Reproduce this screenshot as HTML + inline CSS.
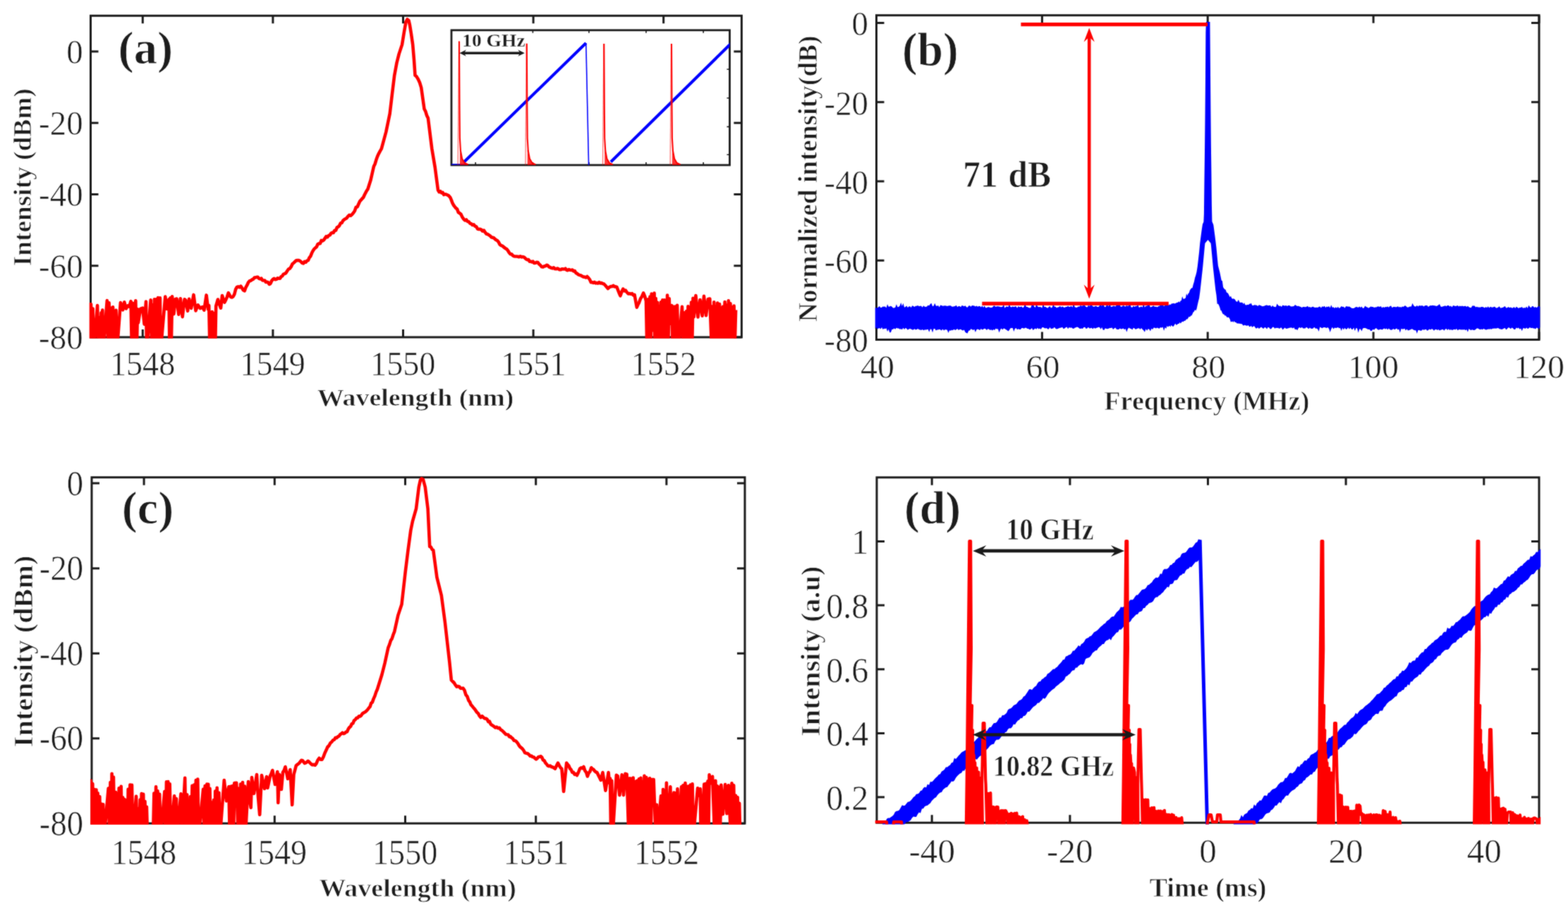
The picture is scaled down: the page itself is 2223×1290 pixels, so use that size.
<!DOCTYPE html>
<html><head><meta charset="utf-8"><title>Figure</title>
<style>html,body{margin:0;padding:0;background:#fff;}svg{display:block;}</style>
</head><body>
<svg width="2223" height="1290" viewBox="0 0 2223 1290">
<rect width="2223" height="1290" fill="#fff"/>
<defs>
<filter id="soft" filterUnits="userSpaceOnUse" x="0" y="0" width="2223" height="1290" color-interpolation-filters="sRGB"><feConvolveMatrix order="3" kernelMatrix="1 2 1 2 12 2 1 2 1" divisor="24" edgeMode="duplicate"/></filter>
<clipPath id="ca"><rect x="126.7" y="20.5" width="926.5" height="459.3"/></clipPath>
<clipPath id="cb"><rect x="1240.5" y="19.7" width="943.5" height="463.8"/></clipPath>
<clipPath id="cc"><rect x="128.2" y="674.9" width="929.6" height="494.1"/></clipPath>
<clipPath id="cd"><rect x="1240.8" y="674.6" width="943.4" height="493.9"/></clipPath>
</defs>
<g filter="url(#soft)"><rect width="2223" height="1290" fill="#fff"/><g font-family="'Liberation Serif', serif" fill="#1c1c1c">
<path d="M202.3 478V467M202.3 22.3V33.3M386.9 478V467M386.9 22.3V33.3M571.5 478V467M571.5 22.3V33.3M756.1 478V467M756.1 22.3V33.3M940.7 478V467M940.7 22.3V33.3M128.5 72.9H139.5M1051.4 72.9H1040.4M128.5 174.2H139.5M1051.4 174.2H1040.4M128.5 275.5H139.5M1051.4 275.5H1040.4M128.5 376.7H139.5M1051.4 376.7H1040.4M128.5 478H139.5M1051.4 478H1040.4" stroke="#1a1a1a" stroke-width="3.0" fill="none"/>
<rect x="128.5" y="22.3" width="922.9" height="455.7" fill="none" stroke="#1a1a1a" stroke-width="3.0"/>
<path d="M1242.5 481.5V470.5M1242.5 21.7V32.7M1477.4 481.5V470.5M1477.4 21.7V32.7M1712.2 481.5V470.5M1712.2 21.7V32.7M1947.1 481.5V470.5M1947.1 21.7V32.7M2182 481.5V470.5M2182 21.7V32.7M1242.5 32.6H1253.5M2182 32.6H2171M1242.5 144.8H1253.5M2182 144.8H2171M1242.5 257H1253.5M2182 257H2171M1242.5 369.3H1253.5M2182 369.3H2171M1242.5 481.5H1253.5M2182 481.5H2171" stroke="#1a1a1a" stroke-width="3.0" fill="none"/>
<rect x="1242.5" y="21.7" width="939.5" height="459.8" fill="none" stroke="#1a1a1a" stroke-width="3.0"/>
<path d="M204.1 1167.2V1156.2M204.1 676.7V687.7M389.3 1167.2V1156.2M389.3 676.7V687.7M574.5 1167.2V1156.2M574.5 676.7V687.7M759.7 1167.2V1156.2M759.7 676.7V687.7M944.9 1167.2V1156.2M944.9 676.7V687.7M130 685.1H141M1056 685.1H1045M130 805.7H141M1056 805.7H1045M130 926.2H141M1056 926.2H1045M130 1046.7H141M1056 1046.7H1045M130 1167.2H141M1056 1167.2H1045" stroke="#1a1a1a" stroke-width="3.0" fill="none"/>
<rect x="130" y="676.7" width="926" height="490.5" fill="none" stroke="#1a1a1a" stroke-width="3.0"/>
<path d="M1321.2 1166.3V1155.3M1321.2 676.8V687.8M1516.9 1166.3V1155.3M1516.9 676.8V687.8M1712.5 1166.3V1155.3M1712.5 676.8V687.8M1908.1 1166.3V1155.3M1908.1 676.8V687.8M2103.8 1166.3V1155.3M2103.8 676.8V687.8M1243 1130H1254M2182 1130H2171M1243 1039.4H1254M2182 1039.4H2171M1243 948.7H1254M2182 948.7H2171M1243 858.1H1254M2182 858.1H2171M1243 767.4H1254M2182 767.4H2171" stroke="#1a1a1a" stroke-width="3.0" fill="none"/>
<rect x="1243" y="676.8" width="939" height="489.5" fill="none" stroke="#1a1a1a" stroke-width="3.0"/>
<g clip-path="url(#ca)"><polyline points="126.5,429.1 127.8,495 129,431.4 130.3,495 131.6,437.5 133,495 138.1,433.1 139.6,495 140.5,450 142.1,495 143.5,443.3 144.4,495 145.3,439.5 146.4,495 151.8,426.1 153.3,495 154.6,429.3 156,495 157.1,436.6 158.7,495 160.1,435.3 161.2,495 162.1,443.4 163.3,495 164.5,439.7 165.9,495 170.9,429 174.2,439.4 176.3,428.3 178.7,437.5 181.2,433.3 183.3,434.7 185.5,427.1 186.9,495 188.2,429.8 189.3,495 190.3,430.8 191.2,495 192.3,426.2 193.9,495 195,438.4 196,457.4 199.2,437.6 202.2,436.7 204.6,459.6 207,427.5 208,495 213.7,425.3 215,495 216.2,432.2 217.4,495 218.9,424.2 219.9,495 221.4,424.2 222.4,495 224,422 225.6,495 226.9,422.3 227.9,495 234.3,420.5 236.7,437.9 239.5,424.4 240.5,495 241.5,422.3 242.7,495 244.1,420.2 246.4,445.1 248.7,423.9 250.5,423.5 253.3,445.8 255.8,423.2 258.7,449.1 261.6,424.2 263.1,425.5 266.1,440.8 268.1,423.9 271.1,436.9 274.5,417.9 277.5,440.4 280.6,432.4 283.9,437.1 286.8,435.2 289.4,439.7 292.6,418.4 295.1,438.5 296.2,433 297.5,495 298.6,445 299.6,495 300.7,442 301.8,495 302.9,444 304,495 305.1,495 306.2,434 308.9,424.5 310.9,430.9 313,436.7 315,419 316.7,424.5 318.4,428.6 320.2,424.9 322,420.8 323.8,415.1 327,421 328.8,421.4 330.5,420.5 332.3,417.2 334.1,410.2 335.9,407 337.7,406.4 339.5,407.3 341.3,405.6 343.1,408.3 344.9,411.3 346.7,412.4 348.5,407.3 350.3,404.2 352.1,400.2 353.9,398.2 355.7,397.7 357.5,396.2 359.1,395.7 360.7,393.5 362.4,393.4 364,392.9 365.6,392.8 367.2,394.9 368.8,395.4 370.5,394.7 372.1,397.4 373.7,397.5 375.3,397.6 376.9,400 378.6,399.7 380.2,400.4 381.8,402.9 383.5,401.9 385.2,398 386.9,396 388.6,394.8 390.3,396.2 392,395.8 393.6,394.2 395.3,394.8 396.9,394.8 398.5,392.2 400.2,391.3 401.8,388.6 403.4,388.1 405.3,387.1 407.1,384.2 409,381.5 410.9,380.6 412.7,378.2 414.5,374.3 416.4,372.6 418.1,371 419.8,369.3 421.5,369.1 423.2,369 424.9,369.6 426.7,371.1 428.4,372.8 430.1,373.4 431.8,370.9 433.5,371.7 435.2,369.7 436.9,369.1 438.6,365.2 440.3,363.2 442,358.8 443.7,355.5 445.4,352.9 447.1,351.4 448.8,350 450.5,346.1 452.2,345.3 453.9,345.1 455.6,340.9 457.4,341.4 459.1,340.1 460.8,337.6 462.5,335.2 464.2,336.2 465.9,333.9 467.6,333.4 469.3,330.7 471,329.7 472.7,329.9 474.4,326.7 476.1,326.6 477.8,322.3 479.5,321.5 481.2,319.8 482.9,316.3 484.6,316 486.3,312.7 488,311.2 489.8,310.1 491.5,309.2 493.2,306.9 495.2,304.8 497.1,305.7 499.1,304 501,301.8 502.9,299 504.7,293.7 506.6,293.2 508.5,289 510.2,285.3 511.9,283.4 513.5,281.5 515.2,279.8 516.9,276 519.2,271.6 521.5,268 525.6,255 529.9,236 531.6,232.5 533.3,226.8 535,222 536.9,217.8 538.9,214.1 540.8,210.9 547.3,187 552.7,161 556,133 559.2,106.8 562.5,89 565.7,76.4 570,63.4 573,45 575.5,31 577.5,27.5 579.5,29 580.9,35.2 583,48 585.2,63.4 587,85 588.5,106.8 590.6,108.6 592.8,112.2 595,117 597.2,124.1 601.5,154.5 603.3,157.9 605.1,163.7 606.9,167.5 612.3,210.9 616.7,237 621,269.5 622.7,272.2 624.3,271.2 626,273.5 627.6,272.8 629.2,276 630.8,275.3 632.4,275.5 634,276.3 636.2,277.4 638.4,280 640,283.9 641.6,288.2 643.2,291 644.8,293.1 646.5,295.2 648.1,296.4 649.8,301 651.4,302 653.4,303.6 655.4,307.7 657.4,310.6 659.2,312.4 661,311.4 662.8,313.9 664.6,314.2 666.4,316.8 668.1,317.2 669.9,319 671.7,318.4 673.5,320.7 675.2,321.2 677,324.5 678.8,324.9 680.6,324.8 682.4,325.6 684.2,327.6 686,326.6 687.8,329.4 689.5,331.5 691.3,332 693.1,333.1 694.9,334.3 696.6,336.2 698.4,336.7 700.2,337.3 702,339.1 703.6,340.3 705.2,341.1 706.9,343.2 708.5,346.4 710.1,347.8 711.8,348.4 713.4,349.5 715,351 716.7,352.2 718.4,353.1 720.1,355.2 721.9,358.2 723.6,360.1 725.3,360.3 727,362.3 728.8,363.3 730.5,363.5 732.3,363.5 734.1,363.7 735.9,364.2 737.7,363.3 739.4,364.4 741.2,364.1 742.8,364.4 744.4,365.8 746,367.5 747.6,368.2 749.2,368 750.9,370.7 752.5,370.7 754.1,371.4 755.7,370.7 757.3,373 759.1,372.8 760.8,371.7 762.6,372.1 764.4,374.6 766.2,376.1 768,378.3 769.8,378.5 771.5,377.4 773.2,377.2 775,375.7 776.7,376.4 778.3,378.3 780,379 781.7,379.9 783.3,380.4 785,379.3 786.7,381 788.3,381.3 790,380.5 791.7,381.2 793.3,382.2 795,382.3 796.7,381.2 798.3,381.4 800,381.5 801.6,380.7 803.3,382.7 804.9,383.2 806.6,382 808.2,382.8 809.9,383 811.5,382.5 813.2,384.4 814.9,384.1 816.5,387 818.2,387.7 819.9,389.2 821.6,390 823.4,390.3 825.2,391.5 827,392.4 828.8,392.6 830.6,393.4 832.4,392 834.2,393.9 836,396.1 837.9,400.2 839.5,400.2 841.1,400.9 842.8,399.9 844.4,401.4 846,401 847.7,401.6 849.3,400.1 851,401.5 852.6,401 854.3,402 856.2,402.5 858.1,404.5 860,406.7 861.9,409 863.9,407.1 866,406.1 868,406 869.6,404.9 871.2,406.4 872.9,406.4 874.5,407 876.2,411.4 877.8,415.5 879.5,419.3 881.4,413.7 883.3,409.6 885.2,412.5 887,411.7 888.9,414.5 890.8,416.5 892.6,416.1 894.3,416.8 896.1,416.2 897.8,418.5 899.6,417.8 902.8,435.7 904.4,432 906,429.1 908.1,423.2 910.1,420.2 912.2,415.3 914.1,419.8 916,426.6 917.3,495 918.5,495 919,424.2 920.6,495 921.5,420.6 922.7,495 923.7,416.5 924.9,468.3 927.6,415.6 928.5,495 929.7,423.1 931.1,495 932.1,428.7 933.4,495 934.7,433.8 935.9,495 937,428.2 938.4,495 939.3,425.2 940.8,495 942,425.3 943,495 944.1,426.7 945.2,495 946.1,418.6 947.2,495 948.7,423.2 949.9,458.7 952.3,433 953.6,495 954.5,434.9 955.9,495 957,434.6 958.5,495 960.1,432.9 961.7,495 967,434.9 968.5,495 970.1,443.2 971.6,495 973.2,441.1 974.4,495 975.5,434.3 976.5,495 977.5,438.8 979.1,495 980.1,428.6 981.1,495 982.5,422.7 983.7,449.4 986.4,419.1 989.5,449.4 992.5,425 995.6,447.8 998,419.9 1001,447.3 1003.8,424 1006.3,423.5 1009,495 1010.1,434.2 1011.1,495 1012.3,428.2 1013.6,495 1014.9,434.3 1015.8,495 1017.2,429.6 1018.7,495 1020.1,431.1 1021.3,495 1022.3,437.3 1023.5,495 1024.8,434.8 1026,495 1027.6,428 1029.1,495 1030.3,432.8 1031.7,495 1032.8,426.4 1034,495 1035.5,430.4 1036.7,495 1038.2,435.9 1039.5,495 1040.6,433.6 1041.6,495 1043.1,439.4" fill="none" stroke="#ff0000" stroke-width="4.6" stroke-linejoin="round"/></g>
<clipPath id="ci"><rect x="640" y="42.8" width="394.5" height="191.2"/></clipPath>
<rect x="640" y="42.8" width="394.5" height="191.2" fill="#fff"/>
<path d="M674.2 234V230M755.4 234V230M755.4 42.8V46.8M835 234V230M835 42.8V46.8M916 234V230M916 42.8V46.8M997.2 234V230M997.2 42.8V46.8M1034.5 98.3H1030.5M1034.5 139H1030.5M1034.5 179.6H1030.5M1034.5 219.2H1030.5" stroke="#1a1a1a" stroke-width="1.6" fill="none"/>
<rect x="640" y="42.8" width="394.5" height="191.2" fill="none" stroke="#1a1a1a" stroke-width="2.8"/>
<g clip-path="url(#ci)">
<polyline points="658,229.5 830.8,61" fill="none" stroke="#0000ff" stroke-width="4.2"/>
<polyline points="830.8,61 834.6,234" fill="none" stroke="#0000ff" stroke-width="1.6"/>
<polyline points="866,229.5 1040,58" fill="none" stroke="#0000ff" stroke-width="4.2"/>
<polyline points="640,233 660,233" fill="none" stroke="#0000ff" stroke-width="1.6"/>
<polyline points="649.2,234 650.6,58.5" fill="none" stroke="#ff0000" stroke-width="1.3" opacity="0.55"/>
<polyline points="651,58.5 651.5,150 651.9,196 653,214 655.1,225 658.6,231 663.6,233.5" fill="none" stroke="#ff0000" stroke-width="2.1" stroke-linejoin="round"/>
<polygon points="651.9,212 653.2,219 655.6,227 658.6,231.5 662.6,234 651.9,234" fill="#ff0000" opacity="0.8"/>
<polyline points="745,234 746.4,61.8" fill="none" stroke="#ff0000" stroke-width="1.3" opacity="0.55"/>
<polyline points="746.8,61.8 747.3,150 747.7,196 748.8,214 750.9,225 754.4,231 759.4,233.5" fill="none" stroke="#ff0000" stroke-width="2.1" stroke-linejoin="round"/>
<polygon points="747.7,212 749,219 751.4,227 754.4,231.5 758.4,234 747.7,234" fill="#ff0000" opacity="0.8"/>
<polyline points="854.5,234 855.9,62" fill="none" stroke="#ff0000" stroke-width="1.3" opacity="0.55"/>
<polyline points="856.3,62 856.8,150 857.2,196 858.3,214 860.4,225 863.9,231 868.9,233.5" fill="none" stroke="#ff0000" stroke-width="2.1" stroke-linejoin="round"/>
<polygon points="857.2,212 858.5,219 860.9,227 863.9,231.5 867.9,234 857.2,234" fill="#ff0000" opacity="0.8"/>
<polyline points="950.2,234 951.6,62" fill="none" stroke="#ff0000" stroke-width="1.3" opacity="0.55"/>
<polyline points="952,62 952.5,150 952.9,196 954,214 956.1,225 959.6,231 964.6,233.5" fill="none" stroke="#ff0000" stroke-width="2.1" stroke-linejoin="round"/>
<polygon points="952.9,212 954.2,219 956.6,227 959.6,231.5 963.6,234 952.9,234" fill="#ff0000" opacity="0.8"/>
</g>
<line x1="656.2" y1="75.2" x2="739" y2="75.2" stroke="#1a1a1a" stroke-width="3.4"/>
<polygon points="651.5,75.2 661,70.6 657.7,75.2 661,79.8" fill="#1a1a1a"/>
<polygon points="743.8,75.2 734.3,79.8 737.6,75.2 734.3,70.6" fill="#1a1a1a"/>
<text transform="translate(655.18 65.80) scale(1.0402 0.9556)" text-anchor="start" font-size="26.5" font-weight="bold" stroke="#fff" stroke-width="0.30">10 GHz</text>
<text transform="translate(202.06 531.70) scale(0.9828 1.0226)" text-anchor="middle" font-size="47" stroke="#fff" stroke-width="0.6">1548</text>
<text transform="translate(386.64 531.70) scale(0.9828 1.0226)" text-anchor="middle" font-size="47" stroke="#fff" stroke-width="0.6">1549</text>
<text transform="translate(571.22 531.70) scale(0.9828 1.0226)" text-anchor="middle" font-size="47" stroke="#fff" stroke-width="0.6">1550</text>
<text transform="translate(756.29 531.70) scale(0.9828 1.0226)" text-anchor="middle" font-size="47" stroke="#fff" stroke-width="0.6">1551</text>
<text transform="translate(940.87 531.70) scale(0.9828 1.0226)" text-anchor="middle" font-size="47" stroke="#fff" stroke-width="0.6">1552</text>
<text transform="translate(117.60 89.83) scale(0.9983 1.0226)" text-anchor="end" font-size="47" stroke="#fff" stroke-width="0.6">0</text>
<text transform="translate(117.60 191.10) scale(0.9983 1.0226)" text-anchor="end" font-size="47" stroke="#fff" stroke-width="0.6">-20</text>
<text transform="translate(117.60 292.37) scale(0.9983 1.0226)" text-anchor="end" font-size="47" stroke="#fff" stroke-width="0.6">-40</text>
<text transform="translate(117.60 393.63) scale(0.9983 1.0226)" text-anchor="end" font-size="47" stroke="#fff" stroke-width="0.6">-60</text>
<text transform="translate(117.60 494.90) scale(0.9983 1.0226)" text-anchor="end" font-size="47" stroke="#fff" stroke-width="0.6">-80</text>
<text transform="translate(449.73 575.33) scale(1.0236 0.9242)" text-anchor="start" font-size="37" font-weight="bold" stroke="#fff" stroke-width="0.80">Wavelength (nm)</text>
<text transform="translate(44.36 377.24) rotate(-90) scale(1.0086 0.9485)" text-anchor="start" font-size="37" font-weight="bold" stroke="#fff" stroke-width="0.80">Intensity (dBm)</text>
<text transform="translate(167.48 89.66) scale(1.0397 1.0364)" text-anchor="start" font-size="64" font-weight="bold" stroke="#fff" stroke-width="0.80">(a)</text>
<g clip-path="url(#cb)"><polygon points="1240.5,435.9 1242.1,436.2 1243.7,436.8 1245.3,435.3 1246.9,433.9 1248.5,436.2 1250.1,435.7 1251.7,434.5 1253.3,434.7 1254.9,434.4 1256.5,436.4 1258.1,431.3 1259.7,434.7 1261.3,434.6 1262.9,433.7 1264.5,434.7 1266.1,436.4 1267.7,436.4 1269.3,435.8 1270.9,431.2 1272.5,435.3 1274.1,435 1275.7,433.6 1277.3,428.9 1278.9,434 1280.5,429.8 1282.1,435.7 1283.7,435.1 1285.3,433.6 1286.9,436.1 1288.5,434.6 1290.1,434.3 1291.7,435.9 1293.3,433.3 1294.9,434 1296.5,434.9 1298.1,433.7 1299.7,433.8 1301.3,432.9 1302.9,434.2 1304.5,433.8 1306.1,433.8 1307.7,435.7 1309.3,433.2 1310.9,434.8 1312.5,435 1314.1,434.5 1315.7,432.7 1317.3,433.3 1318.9,430.9 1320.5,429.8 1322.1,434.3 1323.7,433.4 1325.3,429.8 1326.9,433.5 1328.5,433.8 1330.1,432.9 1331.7,435.4 1333.3,432.5 1334.9,432.9 1336.5,433.8 1338.1,433.6 1339.7,433.3 1341.3,433.5 1342.9,433.9 1344.5,433.4 1346.1,433.3 1347.7,433.3 1349.3,434.4 1350.9,434.8 1352.5,434.2 1354.1,434 1355.7,432.7 1357.3,435.3 1358.9,433.9 1360.5,434.1 1362.1,435.2 1363.7,432.9 1365.3,433.6 1366.9,434.2 1368.5,433.2 1370.1,435.3 1371.7,435.8 1373.3,433.5 1374.9,433.3 1376.5,434.8 1378.1,433.1 1379.7,433.2 1381.3,433.4 1382.9,434.5 1384.5,433.5 1386.1,434.8 1387.7,433.9 1389.3,433.9 1390.9,435.4 1392.5,433.5 1394.1,435.9 1395.7,433.4 1397.3,436.2 1398.9,436.3 1400.5,435.3 1402.1,435.3 1403.7,436 1405.3,436.1 1406.9,435.8 1408.5,433.7 1410.1,433.6 1411.7,434.9 1413.3,434.2 1414.9,434.2 1416.5,434.6 1418.1,434.9 1419.7,435.2 1421.3,434.7 1422.9,431.8 1424.5,436.8 1426.1,434.7 1427.7,434.6 1429.3,435.2 1430.9,431.5 1432.5,435 1434.1,435.5 1435.7,434.2 1437.3,435.3 1438.9,434.6 1440.5,434.3 1442.1,436.8 1443.7,434.1 1445.3,435.2 1446.9,435 1448.5,434.4 1450.1,436.6 1451.7,434.8 1453.3,430.7 1454.9,435 1456.5,435 1458.1,436.1 1459.7,436.5 1461.3,436.2 1462.9,432 1464.5,430.6 1466.1,434.4 1467.7,435.9 1469.3,431.3 1470.9,434.3 1472.5,435.3 1474.1,434.9 1475.7,435.3 1477.3,436.8 1478.9,430.2 1480.5,435.3 1482.1,434.7 1483.7,436.1 1485.3,436.8 1486.9,435 1488.5,433.9 1490.1,436.4 1491.7,435.7 1493.3,431.3 1494.9,434.8 1496.5,434.8 1498.1,436.5 1499.7,435.6 1501.3,435.3 1502.9,433.7 1504.5,435.7 1506.1,434.2 1507.7,435.4 1509.3,435.9 1510.9,434.9 1512.5,434.9 1514.1,433.8 1515.7,435 1517.3,434.8 1518.9,433.8 1520.5,435.8 1522.1,430 1523.7,435.2 1525.3,435.7 1526.9,435.9 1528.5,434.6 1530.1,434.7 1531.7,433.1 1533.3,433.8 1534.9,433.5 1536.5,433.1 1538.1,433.2 1539.7,435 1541.3,435.5 1542.9,433 1544.5,433.8 1546.1,432.9 1547.7,433 1549.3,434.1 1550.9,434.9 1552.5,434 1554.1,433.7 1555.7,434.9 1557.3,435.1 1558.9,433.2 1560.5,432.8 1562.1,433.7 1563.7,430.6 1565.3,433.9 1566.9,435.4 1568.5,433.3 1570.1,432.7 1571.7,434.3 1573.3,428.3 1574.9,435 1576.5,434.8 1578.1,433.8 1579.7,433.8 1581.3,434.5 1582.9,432.8 1584.5,428.7 1586.1,433 1587.7,432.7 1589.3,434.9 1590.9,434.2 1592.5,433 1594.1,434.1 1595.7,434.4 1597.3,433.1 1598.9,434 1600.5,432.9 1602.1,430.9 1603.7,435.6 1605.3,435.7 1606.9,433.4 1608.5,435.1 1610.1,433.8 1611.7,434 1613.3,432.1 1614.9,435.9 1616.5,435.3 1618.1,434.3 1619.7,435.8 1621.3,429.4 1622.9,435.7 1624.5,433.6 1626.1,433.9 1627.7,430.2 1629.3,431.6 1630.9,435.6 1632.5,435 1634.1,433.9 1635.7,433.4 1637.3,434.9 1638.9,434.4 1640.5,435.5 1642.1,434.3 1643.7,433.8 1645.3,432.7 1646.9,433.1 1648.5,432.5 1650.1,433.9 1651.7,433 1653.3,433 1654.5,432.9 1655.7,432.1 1656.9,433 1658.1,431.3 1659.3,432.3 1660.5,430.7 1661.7,430.2 1662.9,430.3 1664.1,429.7 1665.3,430.6 1666.5,429.9 1667.7,429.3 1668.9,429 1670.1,428.4 1671.3,427.2 1672.5,428.8 1673.7,426.2 1674.9,426.1 1676.1,420 1677.3,423.2 1678.5,424 1679.7,423.1 1680.9,422.5 1682.1,416 1683.3,419.2 1684.5,416.3 1685.7,415.2 1686.9,411.5 1688.1,409.7 1689.3,408.2 1690.5,408.2 1691.7,403.2 1692.9,399.4 1694.1,393.7 1695.3,390.2 1696.5,385.6 1697.7,377.9 1698.9,367.7 1700.1,357.2 1701.3,344.2 1702.5,335.1 1703.7,326 1704.9,318 1705.4,316.8 1705.9,315.7 1706.4,314.5 1706.9,303.5 1707.4,260 1707.9,222.5 1708.4,177.1 1708.9,120 1709.4,45.8 1709.9,31 1710.4,31 1710.9,31 1711.4,31 1711.9,31 1712.4,31 1712.9,31 1713.4,31 1713.9,31 1714.4,31 1714.9,31 1715.4,31 1715.9,90.3 1716.4,154.3 1716.9,207.5 1717.4,245 1717.9,290 1718.4,314 1718.9,315.2 1719.4,316.4 1719.9,317.6 1720.4,319.2 1720.9,323 1722.1,332 1723.3,341.2 1724.5,351.6 1725.7,364.3 1726.9,376.4 1728.1,381.3 1729.3,385.8 1730.5,391.8 1731.7,397.6 1732.9,398.2 1734.1,407.1 1735.3,409.1 1736.5,410.2 1737.7,410.7 1738.9,414.4 1740.1,415.1 1741.3,416.3 1742.5,418.8 1743.7,421.3 1744.9,419.6 1746.1,422.5 1747.3,423.8 1748.5,423.2 1749.7,423.7 1750.9,424.4 1752.1,426.8 1753.3,427.8 1754.5,427.5 1755.7,424.7 1756.9,427.2 1758.1,429.2 1759.3,428.4 1760.5,429 1761.7,429 1762.9,431.3 1764.1,429.1 1765.3,432 1766.5,432.5 1767.7,432.2 1768.9,431.8 1770.1,432.3 1771.3,430.5 1772.5,430.9 1773.7,429.4 1775.3,433.1 1776.9,433 1778.5,432.2 1780.1,432.5 1781.7,432.7 1783.3,433.9 1784.9,432.3 1786.5,432.7 1788.1,433.5 1789.7,434.2 1791.3,433.9 1792.9,433.5 1794.5,432.7 1796.1,432.6 1797.7,433.2 1799.3,433.1 1800.9,432.7 1802.5,435.3 1804.1,433 1805.7,434.7 1807.3,435.1 1808.9,435.3 1810.5,430.6 1812.1,432.8 1813.7,434 1815.3,433.5 1816.9,435.1 1818.5,432.6 1820.1,433.3 1821.7,433.5 1823.3,433 1824.9,434.1 1826.5,432.9 1828.1,433 1829.7,434.3 1831.3,434.6 1832.9,434.2 1834.5,434.1 1836.1,432.1 1837.7,433.3 1839.3,433.9 1840.9,433.8 1842.5,434.4 1844.1,435.1 1845.7,435.9 1847.3,435 1848.9,434.9 1850.5,435.2 1852.1,435 1853.7,433.8 1855.3,435.5 1856.9,434.9 1858.5,436.1 1860.1,434.9 1861.7,434.8 1863.3,435.8 1864.9,436.1 1866.5,435.8 1868.1,436.1 1869.7,435 1871.3,434.5 1872.9,436.4 1874.5,434.3 1876.1,435.1 1877.7,433.7 1879.3,436 1880.9,434.6 1882.5,435.3 1884.1,434.1 1885.7,436.4 1887.3,432.3 1888.9,436.1 1890.5,435.3 1892.1,436.9 1893.7,435.2 1895.3,436.8 1896.9,434.7 1898.5,437 1900.1,436 1901.7,434.1 1903.3,435 1904.9,434.7 1906.5,436.7 1908.1,434.2 1909.7,434.2 1911.3,434.7 1912.9,434.6 1914.5,435.6 1916.1,436.7 1917.7,437 1919.3,436.9 1920.9,436.1 1922.5,435.1 1924.1,435.2 1925.7,435.9 1927.3,434.4 1928.9,435.9 1930.5,434.6 1932.1,436.9 1933.7,436.4 1935.3,433.4 1936.9,435.1 1938.5,435.5 1940.1,436.8 1941.7,435.8 1943.3,434.5 1944.9,434.9 1946.5,434.9 1948.1,436 1949.7,435.6 1951.3,435.6 1952.9,434.6 1954.5,434.5 1956.1,435.1 1957.7,433.9 1959.3,436.6 1960.9,435.1 1962.5,435.9 1964.1,435.1 1965.7,435.2 1967.3,434.5 1968.9,435.7 1970.5,434.1 1972.1,433.4 1973.7,436.3 1975.3,435.1 1976.9,435.1 1978.5,435.2 1980.1,435.3 1981.7,434.3 1983.3,435.6 1984.9,435.1 1986.5,435.7 1988.1,434.6 1989.7,434.9 1991.3,433.4 1992.9,433.4 1994.5,435.2 1996.1,435.8 1997.7,434.9 1999.3,434.6 2000.9,434.6 2002.5,429.8 2004.1,433 2005.7,434.5 2007.3,434.6 2008.9,433 2010.5,434.5 2012.1,433 2013.7,433.4 2015.3,433.2 2016.9,433.2 2018.5,434.6 2020.1,433.2 2021.7,433 2023.3,432.9 2024.9,435 2026.5,433.8 2028.1,433 2029.7,433.3 2031.3,432.7 2032.9,433.3 2034.5,433.2 2036.1,433.9 2037.7,433.6 2039.3,432.6 2040.9,430.9 2042.5,434.6 2044.1,434.9 2045.7,434.2 2047.3,434 2048.9,433.2 2050.5,434.3 2052.1,433 2053.7,433.1 2055.3,434.6 2056.9,433.4 2058.5,435.4 2060.1,432.9 2061.7,433.4 2063.3,434 2064.9,433.8 2066.5,433 2068.1,434.6 2069.7,433.4 2071.3,434.2 2072.9,433.6 2074.5,434.3 2076.1,434.1 2077.7,433.7 2079.3,435.1 2080.9,433.8 2082.5,435.3 2084.1,436.1 2085.7,436.2 2087.3,433.6 2088.9,433.5 2090.5,433.5 2092.1,435.4 2093.7,434.8 2095.3,435.5 2096.9,435.4 2098.5,435.7 2100.1,434.9 2101.7,434.9 2103.3,435.5 2104.9,436.4 2106.5,435 2108.1,436.3 2109.7,434.2 2111.3,436.4 2112.9,434.7 2114.5,435.4 2116.1,435.8 2117.7,434.9 2119.3,434.7 2120.9,436.5 2122.5,436.5 2124.1,435.4 2125.7,434.3 2127.3,436.7 2128.9,436.2 2130.5,436.1 2132.1,435 2133.7,434.1 2135.3,436.6 2136.9,436.2 2138.5,435.1 2140.1,436.3 2141.7,435.6 2143.3,436.6 2144.9,436.5 2146.5,435 2148.1,436.9 2149.7,434.7 2151.3,435.8 2152.9,437 2154.5,435.9 2156.1,435.9 2157.7,435.1 2159.3,437.1 2160.9,436 2162.5,436.7 2164.1,434.6 2165.7,436.9 2167.3,432.7 2168.9,435.1 2170.5,436.3 2172.1,434 2173.7,434.2 2175.3,436 2176.9,435.1 2178.5,436.3 2180.1,434.7 2181.7,434 2183.3,434.7 2183.3,463.9 2181.7,466.4 2180.1,465.2 2178.5,464.6 2176.9,466.4 2175.3,465.5 2173.7,465.6 2172.1,464.8 2170.5,465.3 2168.9,464.1 2167.3,465.6 2165.7,466.1 2164.1,464.5 2162.5,465.9 2160.9,465.2 2159.3,465.2 2157.7,469.3 2156.1,465.4 2154.5,466.8 2152.9,464.5 2151.3,465.4 2149.7,464.4 2148.1,466.9 2146.5,466.9 2144.9,465.2 2143.3,464.4 2141.7,466.3 2140.1,464.7 2138.5,464.2 2136.9,466.1 2135.3,467.5 2133.7,465.1 2132.1,465.4 2130.5,466.4 2128.9,466.9 2127.3,466.4 2125.7,466.2 2124.1,465.1 2122.5,465.2 2120.9,465.7 2119.3,465.5 2117.7,465.7 2116.1,465.7 2114.5,466.7 2112.9,466.3 2111.3,466.7 2109.7,466.5 2108.1,467.2 2106.5,467.4 2104.9,466.7 2103.3,465.9 2101.7,467.3 2100.1,466.4 2098.5,467.2 2096.9,466.4 2095.3,465.5 2093.7,465.5 2092.1,467 2090.5,468.1 2088.9,468 2087.3,467.3 2085.7,467.9 2084.1,467.4 2082.5,465.9 2080.9,470.7 2079.3,466.9 2077.7,468.2 2076.1,467.1 2074.5,467.4 2072.9,467.2 2071.3,467.5 2069.7,467 2068.1,467.3 2066.5,468.2 2064.9,466.1 2063.3,467.5 2061.7,466.8 2060.1,467.4 2058.5,468.1 2056.9,466.9 2055.3,467.9 2053.7,466.2 2052.1,468 2050.5,466.1 2048.9,466.8 2047.3,468.8 2045.7,466.8 2044.1,467.3 2042.5,467.7 2040.9,468.5 2039.3,467.1 2037.7,468 2036.1,466.7 2034.5,467.3 2032.9,468.7 2031.3,466.7 2029.7,466.2 2028.1,467.5 2026.5,466.6 2024.9,468 2023.3,468.8 2021.7,466.7 2020.1,467.2 2018.5,467.7 2016.9,467 2015.3,468.8 2013.7,468.7 2012.1,468 2010.5,467.9 2008.9,473 2007.3,468.3 2005.7,468.2 2004.1,467.8 2002.5,466.5 2000.9,466.4 1999.3,467.6 1997.7,467.9 1996.1,468.4 1994.5,466.4 1992.9,468.5 1991.3,465.8 1989.7,466.6 1988.1,466.6 1986.5,466.1 1984.9,471.8 1983.3,466.5 1981.7,467.4 1980.1,465.5 1978.5,466.6 1976.9,467.2 1975.3,466 1973.7,467.5 1972.1,467.7 1970.5,467.3 1968.9,465.6 1967.3,467.6 1965.7,465.5 1964.1,466.8 1962.5,465.5 1960.9,466.5 1959.3,467.6 1957.7,466.7 1956.1,466.9 1954.5,467.8 1952.9,467.1 1951.3,465.3 1949.7,465.7 1948.1,467.7 1946.5,466.8 1944.9,468.8 1943.3,469.2 1941.7,467 1940.1,467 1938.5,466.6 1936.9,465.4 1935.3,465.1 1933.7,465 1932.1,465.6 1930.5,469.6 1928.9,466.5 1927.3,466.5 1925.7,471.7 1924.1,465.5 1922.5,464.9 1920.9,469.3 1919.3,464.4 1917.7,466.9 1916.1,466.7 1914.5,464.4 1912.9,466.7 1911.3,464.2 1909.7,466.5 1908.1,466.7 1906.5,464.8 1904.9,467.6 1903.3,464.8 1901.7,469.1 1900.1,464.9 1898.5,465.3 1896.9,464.1 1895.3,464.7 1893.7,465.1 1892.1,464.6 1890.5,466.4 1888.9,463.7 1887.3,466.6 1885.7,471.1 1884.1,465.9 1882.5,464 1880.9,465 1879.3,464.6 1877.7,464 1876.1,464.3 1874.5,465.2 1872.9,464.4 1871.3,463.6 1869.7,470.1 1868.1,466.4 1866.5,465.5 1864.9,465.8 1863.3,463.7 1861.7,465.6 1860.1,466.1 1858.5,465.8 1856.9,464.5 1855.3,466.3 1853.7,465.1 1852.1,463.7 1850.5,465.6 1848.9,465.5 1847.3,465.6 1845.7,463.7 1844.1,465.2 1842.5,464 1840.9,464.9 1839.3,468.2 1837.7,466.4 1836.1,467.3 1834.5,464.2 1832.9,465.6 1831.3,464.6 1829.7,464.6 1828.1,464.8 1826.5,465.2 1824.9,465.7 1823.3,465.9 1821.7,464.4 1820.1,465.8 1818.5,467.4 1816.9,464.6 1815.3,464.7 1813.7,465.9 1812.1,464.8 1810.5,465 1808.9,464.8 1807.3,465.8 1805.7,463.7 1804.1,463.8 1802.5,466 1800.9,466.6 1799.3,464.5 1797.7,463.7 1796.1,466.5 1794.5,464.4 1792.9,464 1791.3,465.9 1789.7,465 1788.1,463.6 1786.5,464.7 1784.9,465.9 1783.3,464.2 1781.7,465.6 1780.1,465.2 1778.5,462.4 1776.9,462.4 1775.3,464.1 1773.7,461.8 1772.5,463 1771.3,463.2 1770.1,461.3 1768.9,461.5 1767.7,461.7 1766.5,461.5 1765.3,461 1764.1,460.7 1762.9,461.7 1761.7,460.6 1760.5,459.1 1759.3,459.3 1758.1,458.8 1756.9,458.8 1755.7,458.5 1754.5,458.5 1753.3,458.2 1752.1,456.7 1750.9,457.1 1749.7,455.1 1748.5,456.9 1747.3,455.6 1746.1,455.9 1744.9,456.5 1743.7,452.6 1742.5,450.6 1741.3,449.6 1740.1,450.3 1738.9,449.1 1737.7,447.2 1736.5,447.6 1735.3,445.6 1734.1,445.6 1732.9,443.7 1731.7,440.4 1730.5,439.9 1729.3,435.7 1728.1,432.8 1726.9,430.5 1725.7,431.2 1724.5,418.6 1723.3,410.8 1722.1,399.9 1720.9,389 1720.4,384.4 1719.9,379.9 1719.4,374.6 1718.9,369.1 1718.4,363.6 1717.9,358.2 1717.4,352.7 1716.9,347.2 1716.4,344.6 1715.9,344 1715.4,343.5 1714.9,342.9 1714.4,342.3 1713.9,341.7 1713.4,341.1 1712.9,340.5 1712.4,340.1 1711.9,340.7 1711.4,341.3 1710.9,341.9 1710.4,342.5 1709.9,343.1 1709.4,343.7 1708.9,344.3 1708.4,344.9 1707.9,349.4 1707.4,354.9 1706.9,360.4 1706.4,365.8 1705.9,371.3 1705.4,376.8 1704.9,381.7 1703.7,392.6 1702.5,403.5 1701.3,414.1 1700.1,422.8 1698.9,427.2 1697.7,432.6 1696.5,438 1695.3,440.6 1694.1,439.1 1692.9,441.7 1691.7,442.5 1690.5,445.2 1689.3,447.6 1688.1,447.5 1686.9,449.5 1685.7,448.7 1684.5,450.8 1683.3,452.8 1682.1,452.3 1680.9,454.3 1679.7,454.7 1678.5,455 1677.3,456.5 1676.1,455.4 1674.9,457.2 1673.7,458.5 1672.5,456.9 1671.3,459 1670.1,459.1 1668.9,460 1667.7,461 1666.5,458.8 1665.3,460.1 1664.1,462.3 1662.9,462.9 1661.7,461.9 1660.5,460.9 1659.3,463.5 1658.1,461.8 1656.9,462.4 1655.7,463.7 1654.5,461.7 1653.3,466.1 1651.7,464.1 1650.1,468.9 1648.5,463.5 1646.9,464.7 1645.3,464.1 1643.7,465.8 1642.1,465.2 1640.5,464.6 1638.9,465.4 1637.3,464.8 1635.7,464.5 1634.1,467.1 1632.5,465.7 1630.9,469.5 1629.3,466.8 1627.7,466.3 1626.1,468.7 1624.5,466.2 1622.9,470.7 1621.3,468.2 1619.7,467.1 1618.1,465.1 1616.5,466.9 1614.9,465.2 1613.3,465.4 1611.7,466.1 1610.1,466.9 1608.5,465.6 1606.9,464.7 1605.3,467.4 1603.7,466.1 1602.1,465.8 1600.5,464.6 1598.9,466.2 1597.3,470.8 1595.7,466 1594.1,467.2 1592.5,465.4 1590.9,466.3 1589.3,466.5 1587.7,465.5 1586.1,466.9 1584.5,467 1582.9,466.8 1581.3,464.5 1579.7,465.4 1578.1,467 1576.5,464.4 1574.9,465.1 1573.3,465.1 1571.7,465.8 1570.1,466.2 1568.5,465.9 1566.9,465.2 1565.3,468 1563.7,467.6 1562.1,464 1560.5,466.7 1558.9,463.9 1557.3,463.8 1555.7,464.5 1554.1,465.1 1552.5,465.8 1550.9,464.5 1549.3,466.4 1547.7,464.7 1546.1,465.2 1544.5,465.6 1542.9,463.7 1541.3,465.4 1539.7,465.9 1538.1,463.8 1536.5,464 1534.9,466 1533.3,465.4 1531.7,466 1530.1,465.6 1528.5,464.1 1526.9,463.6 1525.3,464.3 1523.7,464.8 1522.1,466 1520.5,465.4 1518.9,464.3 1517.3,464.7 1515.7,463.9 1514.1,466.2 1512.5,463.6 1510.9,464.3 1509.3,465.4 1507.7,466.3 1506.1,463.8 1504.5,464.5 1502.9,464.7 1501.3,465.2 1499.7,466.1 1498.1,466.5 1496.5,465.8 1494.9,463.8 1493.3,465.5 1491.7,465.7 1490.1,466.2 1488.5,464.1 1486.9,466.4 1485.3,466.4 1483.7,465 1482.1,465.6 1480.5,465.1 1478.9,464.1 1477.3,464.3 1475.7,466.9 1474.1,465.5 1472.5,466.5 1470.9,464.7 1469.3,466.7 1467.7,465.5 1466.1,466.8 1464.5,468.1 1462.9,465.1 1461.3,466.8 1459.7,467.2 1458.1,466.1 1456.5,466.1 1454.9,464.8 1453.3,464.7 1451.7,465.8 1450.1,465 1448.5,464.9 1446.9,467.1 1445.3,466.9 1443.7,466.2 1442.1,467.3 1440.5,465.1 1438.9,466.1 1437.3,470 1435.7,465.1 1434.1,465.1 1432.5,465.2 1430.9,468 1429.3,469.4 1427.7,467.9 1426.1,467.3 1424.5,466.1 1422.9,465.4 1421.3,467.4 1419.7,465.6 1418.1,467.4 1416.5,471.5 1414.9,466.2 1413.3,466.5 1411.7,465.7 1410.1,468.1 1408.5,466.9 1406.9,468.4 1405.3,467.3 1403.7,468 1402.1,466.7 1400.5,466.3 1398.9,468.1 1397.3,466.3 1395.7,465.8 1394.1,466.7 1392.5,467.5 1390.9,466 1389.3,468 1387.7,467.3 1386.1,466.6 1384.5,467.3 1382.9,471 1381.3,466.8 1379.7,468.1 1378.1,467 1376.5,466.3 1374.9,468.6 1373.3,468.7 1371.7,472.5 1370.1,472 1368.5,471 1366.9,467.4 1365.3,468.6 1363.7,468 1362.1,466.8 1360.5,467.1 1358.9,468 1357.3,465.9 1355.7,467.3 1354.1,468.1 1352.5,466.8 1350.9,468.2 1349.3,467.8 1347.7,468.8 1346.1,468.2 1344.5,471.9 1342.9,467.7 1341.3,467.3 1339.7,467.3 1338.1,468.5 1336.5,466.6 1334.9,468.4 1333.3,467.4 1331.7,466.8 1330.1,467.4 1328.5,467.6 1326.9,468.5 1325.3,465.9 1323.7,465.9 1322.1,471.5 1320.5,466.7 1318.9,466.5 1317.3,470.8 1315.7,466.8 1314.1,467.3 1312.5,467.4 1310.9,467.6 1309.3,468.2 1307.7,466.9 1306.1,467.9 1304.5,467.5 1302.9,467.2 1301.3,465.9 1299.7,467.1 1298.1,467.4 1296.5,466.2 1294.9,467.4 1293.3,467.4 1291.7,466.5 1290.1,466.1 1288.5,466.4 1286.9,467.8 1285.3,465.7 1283.7,465.1 1282.1,467 1280.5,464.8 1278.9,467.2 1277.3,466.3 1275.7,466.7 1274.1,465.5 1272.5,465.6 1270.9,464.8 1269.3,466.7 1267.7,465.5 1266.1,466.7 1264.5,466.9 1262.9,471.2 1261.3,471.3 1259.7,466.7 1258.1,470.1 1256.5,465.3 1254.9,466.2 1253.3,465.8 1251.7,467.1 1250.1,464.1 1248.5,466.4 1246.9,464.9 1245.3,465.6 1243.7,466.7 1242.1,464 1240.5,466.3" fill="#0000ff"/></g>
<line x1="1447.4" y1="34.6" x2="1712" y2="34.6" stroke="#ff0000" stroke-width="5.2"/>
<line x1="1392.3" y1="430.3" x2="1656.8" y2="430.3" stroke="#ff0000" stroke-width="5.2"/>
<line x1="1544.2" y1="49.5" x2="1544.2" y2="413.6" stroke="#ff0000" stroke-width="4.6"/>
<polygon points="1544.2,39.5 1551.8,59.5 1544.2,52.5 1536.6,59.5" fill="#ff0000"/>
<polygon points="1544.2,423.6 1536.6,403.6 1544.2,410.6 1551.8,403.6" fill="#ff0000"/>
<text transform="translate(1365.31 265.20) scale(1.0087 1.0624)" font-size="49" font-weight="bold" stroke="#fff" stroke-width="0.8">71 <tspan x="63.70" y="-0.06">dB</tspan></text>
<text transform="translate(1244.01 535.90) scale(1.0209 0.9871)" text-anchor="middle" font-size="47" stroke="#fff" stroke-width="0.6">40</text>
<text transform="translate(1478.38 535.90) scale(1.0209 0.9871)" text-anchor="middle" font-size="47" stroke="#fff" stroke-width="0.6">60</text>
<text transform="translate(1713.25 535.90) scale(1.0209 0.9871)" text-anchor="middle" font-size="47" stroke="#fff" stroke-width="0.6">80</text>
<text transform="translate(1947.10 535.90) scale(1.0209 0.9871)" text-anchor="middle" font-size="47" stroke="#fff" stroke-width="0.6">100</text>
<text transform="translate(2181.98 535.90) scale(1.0209 0.9871)" text-anchor="middle" font-size="47" stroke="#fff" stroke-width="0.6">120</text>
<text transform="translate(1230.99 50.39) scale(0.9966 1.0226)" text-anchor="end" font-size="47" stroke="#fff" stroke-width="0.6">0</text>
<text transform="translate(1230.99 162.61) scale(0.9966 1.0226)" text-anchor="end" font-size="47" stroke="#fff" stroke-width="0.6">-20</text>
<text transform="translate(1230.99 274.84) scale(0.9966 1.0226)" text-anchor="end" font-size="47" stroke="#fff" stroke-width="0.6">-40</text>
<text transform="translate(1230.99 387.07) scale(0.9966 1.0226)" text-anchor="end" font-size="47" stroke="#fff" stroke-width="0.6">-60</text>
<text transform="translate(1230.99 499.30) scale(0.9966 1.0226)" text-anchor="end" font-size="47" stroke="#fff" stroke-width="0.6">-80</text>
<text transform="translate(1565.27 580.60) scale(1.0337 1.0281)" text-anchor="start" font-size="37" font-weight="bold" stroke="#fff" stroke-width="0.80">Frequency (MHz)</text>
<text transform="translate(1158.32 456.26) rotate(-90) scale(1.0157 0.9970)" text-anchor="start" font-size="37" font-weight="bold" stroke="#fff" stroke-width="0.80">Normalized intensity(dB)</text>
<text transform="translate(1279.05 92.50) scale(1.0181 1.0418)" text-anchor="start" font-size="64" font-weight="bold" stroke="#fff" stroke-width="0.80">(b)</text>
<g clip-path="url(#cc)"><polyline points="126.5,1104.1 127.5,1185 128.9,1106.8 129.8,1185 131.3,1111 132.7,1185 133.7,1119 134.9,1185 136.5,1119.5 137.4,1185 138.6,1124.3 139.7,1185 141.3,1129.3 142.3,1185 143.6,1139.5 145.1,1185 146.2,1140.2 147.7,1185 153.7,1117.5 155.1,1185 156.5,1109.1 157.6,1185 158.6,1096.9 159.8,1185 160.9,1101.6 162.4,1185 164,1123 165.5,1185 166.5,1129.4 167.8,1185 168.7,1117.2 170.3,1185 171.7,1114.9 172.8,1185 174.2,1130.5 175.2,1185 176.7,1133.2 178.1,1185 179.1,1134.7 180.7,1185 181.7,1118.7 183.1,1185 184.4,1112.5 185.8,1185 187,1112.9 188.3,1185 193.1,1128.7 194.5,1185 196,1146.7 197.1,1185 198.7,1133.5 199.6,1185 200.7,1125.1 201.7,1185 203.2,1125.7 204.5,1185 205.5,1136.1 206.6,1185 207.9,1143.9 209.1,1185 210.3,1194.2 211.7,1185 213.1,1193.7 214.1,1185 215.5,1196.4 217.1,1185 218.4,1124.6 219.9,1185 221.1,1115.2 222.3,1185 223.5,1121.3 224.7,1185 226.2,1125.8 227.7,1185 233.4,1122 234.5,1185 236,1108.4 237.1,1185 238.3,1108.1 239.4,1185 240.7,1111.2 242.2,1185 247.2,1128.4 248.4,1185 250,1132.2 251,1185 256.5,1125.3 257.7,1185 262.2,1102.8 263.6,1185 265.2,1126.6 266.3,1185 267.4,1151.6 268.9,1185 270,1129.2 271.3,1185 272.5,1113.7 274,1185 275.3,1112.5 276.4,1185 277.8,1106.1 278.9,1185 280.3,1104.6 281.7,1185 288.1,1118.9 289.3,1185 290.7,1114 291.8,1185 293.4,1111.5 294.3,1185 295.3,1111.9 296.5,1185 297.5,1117.8 299,1185 300.2,1137.5 301.6,1185 303.1,1134.1 304.2,1185 305.2,1121.5 306.1,1185 307.7,1116.8 308.8,1185 310.4,1123.8 311.9,1185 317.8,1106 321,1135.4 324.3,1115.3 325.8,1185 327.1,1114.7 328.3,1185 329.6,1114 331.1,1185 332.3,1110 335.2,1109.8 337.7,1185 338.9,1117.5 340,1185 341.1,1111.6 342.6,1185 344,1109.1 345.5,1185 346.9,1114.5 347.9,1185 352,1108 353.5,1130 355.7,1145 357,1102 360,1125 364,1098 366,1130 368.2,1155 371,1099 375,1118 378,1101 379.4,1117 383,1100 384.6,1096.8 386.3,1092 390,1112 393.3,1094 394.3,1138 396,1098 398.9,1119 401,1095 402.8,1091.9 404.5,1087 408,1104 411.4,1091 414.2,1141 416.5,1098 419.8,1085.3 421.9,1083.6 424,1082 425.6,1080 427.2,1077.9 428.8,1078 432,1082 434.4,1080.9 436.7,1078.8 438.9,1080.8 441,1083 442.9,1084.3 444.7,1083.8 446.6,1084.7 448.6,1082.2 450.5,1077.5 452.5,1074.8 454.5,1076.6 456.5,1076.8 458.5,1073 460.4,1067.7 462.4,1063.6 464.4,1059 466.4,1057 468.4,1053.2 470.3,1051.7 472.3,1049.1 473.9,1048.6 475.6,1045.8 477.2,1046 478.9,1044.4 480.6,1043.5 482.2,1041.2 483.9,1040.1 485.5,1038.7 487.1,1040 488.8,1039.4 490.5,1037.7 492.1,1037.2 493.8,1033.4 495.4,1031.1 497.1,1029.7 498.7,1026.1 500.4,1025.3 502,1021.4 503.7,1020.2 505.4,1017.7 507.1,1017.6 508.8,1015.4 510.5,1015.5 512.2,1014.1 513.9,1011.5 515.9,1010.2 517.8,1009.2 519.8,1007.5 521.4,1005.7 523,1003.6 524.6,1001.7 526.2,996.7 527.8,995.6 529.6,990.6 531.4,986.6 533.2,981.1 535,977 541.4,956.5 545.6,940 550.4,918.1 552.2,913.7 554,907.8 555.7,905.4 557.5,899.8 559.3,895.1 564.4,872.1 569.5,856.7 574.7,810.7 578.5,780 582.3,751.9 584.9,739.1 590,721.2 593.8,690.5 596,680.5 597.7,678.5 600,680 602.8,690.5 606.6,721.2 609.2,774.9 610.9,775.5 612.6,778.8 614.3,780 619.4,818.4 625.8,844 630.9,882.3 637.3,938.6 639.9,964.2 641.8,966 643.8,968 645.7,971.1 647.6,973.5 649.4,972.9 651.2,973.5 652.9,975.7 654.7,975.7 656.5,975.5 658.5,978.5 660.5,985 662.4,987.3 664.4,993 666,995 667.7,999.1 669.4,1000.8 671,1003 672.7,1004.8 674.5,1007.4 676.2,1009.8 678,1011.4 679.7,1014.8 681.6,1017 683.5,1015.1 685.3,1016.9 687.2,1018.5 689.1,1018.6 690.7,1019.9 692.4,1023.2 694,1022.7 695.6,1026.4 697.2,1027.8 698.9,1028.8 700.5,1029.9 702.4,1031.5 704.2,1030.7 706.1,1032.3 708,1031.8 709.9,1034.5 711.8,1035.6 713.7,1037.4 715.6,1039.4 717.2,1041 718.8,1041.3 720.4,1041.5 722.1,1044.4 723.7,1044.1 725.3,1045.8 726.9,1046.9 728.7,1049.7 730.5,1050 732.4,1051.6 734.2,1053.9 736,1057 737.6,1059 739.3,1060.2 740.9,1061.7 742.5,1064 744.2,1067.1 745.8,1067.7 747.7,1068 749.6,1069.3 751.5,1071.6 753.4,1071.5 755,1073 756.7,1073.2 758.4,1075 760,1076.2 761.7,1075.1 763.4,1073.1 765,1072.8 766.7,1072.1 768.3,1073.7 769.9,1077.3 771.6,1078.1 773.2,1081.3 774.8,1083 776.5,1085.3 778.3,1086.1 780,1085.5 781.8,1087.1 783.5,1087.3 785.3,1088.5 787,1089.7 789,1085.6 791,1081.6 792.8,1085.1 794.6,1088.2 796.4,1089.7 799.1,1122 803.2,1081.6 804.8,1083.7 806.4,1085.6 808.1,1089.5 809.7,1091.1 811.3,1095 813,1094.7 814.6,1097.8 816.3,1097 818,1099.1 820,1095 822.1,1089.7 823.9,1088.4 825.7,1089.1 827.5,1087 829.3,1092.5 831.1,1094.8 832.9,1100.5 834.7,1095.6 836.5,1093.6 838.3,1088.3 839.9,1090 841.5,1090.8 843.2,1093.1 844.8,1094.5 846.4,1095 848.2,1098.6 850,1102.2 851.8,1105.9 854.5,1095 858.5,1120.7 862.6,1095 864,1110 865,1103.4 866.2,1185 867.3,1106.9 868.5,1185 873.9,1098.7 875.7,1100.1 878.4,1127.3 881.7,1098.3 884,1127.1 886.5,1096.9 888.6,1097.4 891.4,1185 892.9,1103.2 894.4,1185 895.3,1103.9 896.4,1185 897.7,1102.6 899.1,1185 900.6,1108.1 901.7,1185 903.1,1106.8 904.5,1185 905.9,1104.4 907.2,1185 908.5,1102.9 909.6,1185 910.7,1107.7 912.1,1185 913.5,1099.8 914.7,1185 916.3,1102 917.5,1185 918.8,1105.1 919.8,1185 921.2,1103.2 922.7,1185 924.2,1105 926.7,1105.1 929.6,1185 931,1140.8 932.2,1185 937.1,1128.3 938.7,1185 940.1,1119 941.7,1185 942.7,1121.1 943.8,1185 944.9,1109.7 945.9,1185 950.4,1115.2 951.4,1185 952.7,1126.5 954.2,1185 955.4,1123.5 956.4,1185 957.9,1124.3 959.5,1185 960.5,1118.2 961.5,1185 966.1,1115.4 967.2,1185 968.5,1113.4 969.9,1185 971.5,1110.1 972.7,1185 974.3,1114.8 975.4,1185 976.9,1114.4 977.9,1185 978.9,1112.5 980.4,1185 981.6,1111.4 983,1185 989.1,1117.2 990.3,1127.7 992.7,1118.3 993.7,1185 998.4,1111.5 999.6,1185 1000.9,1110.8 1002.4,1185 1003.5,1107.2 1004.4,1185 1005.6,1098.2 1007.1,1110.6 1010.1,1100.8 1013.2,1185 1014.4,1106.9 1015.9,1185 1016.9,1114.3 1018.1,1185 1019.7,1115.8 1020.8,1185 1022.4,1112.7 1024.9,1154.1 1028.1,1112.1 1030.5,1153.3 1032.8,1113.2 1036.1,1185 1037.5,1110.2 1038.9,1185 1040.2,1113.2 1041.7,1185 1043,1127.9 1044.1,1185 1045.7,1130.3 1046.9,1185 1048.2,1138.8 1049.3,1185" fill="none" stroke="#ff0000" stroke-width="4.6" stroke-linejoin="round"/></g>
<text transform="translate(203.81 1224.50) scale(0.9828 1.0774)" text-anchor="middle" font-size="47" stroke="#fff" stroke-width="0.6">1548</text>
<text transform="translate(389.01 1224.50) scale(0.9828 1.0774)" text-anchor="middle" font-size="47" stroke="#fff" stroke-width="0.6">1549</text>
<text transform="translate(574.21 1224.50) scale(0.9828 1.0774)" text-anchor="middle" font-size="47" stroke="#fff" stroke-width="0.6">1550</text>
<text transform="translate(759.90 1224.50) scale(0.9828 1.0774)" text-anchor="middle" font-size="47" stroke="#fff" stroke-width="0.6">1551</text>
<text transform="translate(945.10 1224.50) scale(0.9828 1.0774)" text-anchor="middle" font-size="47" stroke="#fff" stroke-width="0.6">1552</text>
<text transform="translate(118.09 701.74) scale(0.9932 1.0774)" text-anchor="end" font-size="47" stroke="#fff" stroke-width="0.6">0</text>
<text transform="translate(118.09 822.25) scale(0.9932 1.0774)" text-anchor="end" font-size="47" stroke="#fff" stroke-width="0.6">-20</text>
<text transform="translate(118.09 942.77) scale(0.9932 1.0774)" text-anchor="end" font-size="47" stroke="#fff" stroke-width="0.6">-40</text>
<text transform="translate(118.09 1063.28) scale(0.9932 1.0774)" text-anchor="end" font-size="47" stroke="#fff" stroke-width="0.6">-60</text>
<text transform="translate(118.09 1183.80) scale(0.9932 1.0774)" text-anchor="end" font-size="47" stroke="#fff" stroke-width="0.6">-80</text>
<text transform="translate(452.52 1270.68) scale(1.0258 0.9879)" text-anchor="start" font-size="37" font-weight="bold" stroke="#fff" stroke-width="0.80">Wavelength (nm)</text>
<text transform="translate(45.62 1059.24) rotate(-90) scale(1.0877 0.9970)" text-anchor="start" font-size="37" font-weight="bold" stroke="#fff" stroke-width="0.80">Intensity (dBm)</text>
<text transform="translate(172.80 741.73) scale(1.0338 1.0309)" text-anchor="start" font-size="64" font-weight="bold" stroke="#fff" stroke-width="0.80">(c)</text>
<g clip-path="url(#cd)">
<polygon points="1225,1191.7 1227,1187.9 1229,1186.2 1231,1184.1 1233,1183.7 1235,1180.7 1237,1177.8 1239,1176.3 1241,1177.3 1243,1173.6 1245,1172.9 1247,1169.9 1249,1170.9 1251,1168.5 1253,1164.6 1255,1165.7 1257,1161.1 1259,1159.5 1261,1159.8 1263,1158.2 1265,1157 1267,1155.1 1269,1151.1 1271,1149.8 1273,1149.5 1275,1148.2 1277,1144.8 1279,1141.3 1281,1142.2 1283,1141.8 1285,1139.3 1287,1136.8 1289,1136.4 1291,1135.1 1293,1132.7 1295,1130 1297,1128.8 1299,1125.8 1301,1125.5 1303,1124.2 1305,1121.1 1307,1120.5 1309,1117.2 1311,1115.4 1313,1116.5 1315,1111.6 1317,1112.9 1319,1108.1 1321,1108.4 1323,1106.7 1325,1104.2 1327,1102.3 1329,1100.6 1331,1097.9 1333,1097.3 1335,1093.6 1337,1092.5 1339,1090.8 1341,1087.5 1343,1087.4 1345,1085.7 1347,1084.5 1349,1081.2 1351,1080.8 1353,1074.5 1355,1076 1357,1073.7 1359,1071.3 1361,1069.3 1363,1066.8 1365,1065.4 1367,1064.4 1369,1063.2 1371,1061.8 1373,1057.7 1375,1056.1 1377,1054.5 1379,1053.8 1381,1051.7 1383,1049.6 1385,1047.3 1387,1045.6 1389,1042.2 1391,1042.8 1393,1041.4 1395,1039.6 1397,1035.8 1399,1036.5 1401,1033.2 1403,1030.8 1405,1031 1407,1027.8 1409,1025.1 1411,1025 1413,1023.8 1415,1020.4 1417,1017.2 1419,1017.4 1421,1013.7 1423,1014.1 1425,1012.4 1427,1010.8 1429,1006.2 1431,1004.8 1433,1004.2 1435,1002.6 1437,1000.1 1439,999 1441,997.9 1443,995.2 1445,993 1447,992.2 1449,990.7 1451,987.4 1453,986.5 1455,983.4 1457,980.6 1459,977.2 1461,977.1 1463,977.9 1465,975.5 1467,973.6 1469,972.2 1471,968.4 1473,966.2 1475,966.1 1477,963.1 1479,962 1481,960 1483,959 1485,955.3 1487,954.3 1489,952.5 1491,950.5 1493,948.4 1495,948.4 1497,946.4 1499,945.2 1501,942.6 1503,940.6 1505,938.3 1507,935.2 1509,934.9 1511,930.6 1513,930.1 1515,928.6 1517,928.1 1519,926.3 1521,922.6 1523,922.5 1525,920 1527,917.8 1529,914.8 1531,916.4 1533,913.1 1535,911.9 1537,909.7 1539,906.1 1541,904.8 1543,904 1545,902.1 1547,901.5 1549,898.9 1551,896.2 1553,895.3 1555,894 1557,892.3 1559,889.9 1561,887.9 1563,886.4 1565,884.5 1567,883.6 1569,880.6 1571,879.3 1573,877.7 1575,875.2 1577,874 1579,874.1 1581,871 1583,867.9 1585,866.3 1587,864.3 1589,860.3 1591,861 1593,860 1595,859.9 1597,854.8 1599,855.9 1601,852.1 1603,850.1 1605,850.5 1607,849.2 1609,846.1 1611,843.6 1613,843.5 1615,841 1617,838.5 1619,836 1621,835.5 1623,835 1625,833.1 1627,829.4 1629,829 1631,827.1 1633,825.5 1635,822.3 1637,820.3 1639,818.4 1641,819.3 1643,817.5 1645,813 1647,813.9 1649,808.2 1651,806.6 1653,806.7 1655,806.2 1657,804.6 1659,800.9 1661,800.7 1663,798.3 1665,797.4 1667,793.8 1669,792.4 1671,790.8 1673,789.9 1675,785.6 1677,784 1679,783.7 1681,783 1683,780.6 1685,777.6 1687,776 1689,776.3 1691,775.2 1693,772.6 1695,769.5 1697,768.6 1699,767.8 1700.9,765 1700.9,792.5 1699,794.6 1697,796.4 1695,796.6 1693,799.1 1691,801.4 1689,804.1 1687,803.6 1685,806.3 1683,806.8 1681,809 1679,813.3 1677,813.1 1675,815.2 1673,815.7 1671,818.8 1669,821.9 1667,822.5 1665,822.8 1663,827 1661,827.9 1659,828.1 1657,832.8 1655,831.8 1653,834.5 1651,836.5 1649,839.4 1647,840.9 1645,843.3 1643,844.2 1641,846.4 1639,846.6 1637,848.3 1635,852 1633,853.7 1631,854.5 1629,855.1 1627,857.5 1625,858.8 1623,862 1621,862 1619,866.1 1617,867 1615,867.4 1613,870.7 1611,870.9 1609,872.9 1607,875.2 1605,877 1603,880.5 1601,882.2 1599,881.9 1597,883.1 1595,884.7 1593,888.2 1591,890.7 1589,892.7 1587,892.2 1585,896.2 1583,896.5 1581,898.9 1579,901.4 1577,903.3 1575,907.8 1573,905.2 1571,907.2 1569,907.7 1567,909.6 1565,912.9 1563,913 1561,915.2 1559,916.8 1557,918.8 1555,922 1553,922.2 1551,924.1 1549,925.6 1547,929.1 1545,931.6 1543,932.5 1541,932.9 1539,934.2 1537,940.5 1535,942.4 1533,941.5 1531,942.5 1529,944 1527,946.4 1525,946.6 1523,950.3 1521,950.3 1519,952 1517,955 1515,956.3 1513,958.2 1511,958.9 1509,963.5 1507,965.2 1505,967.1 1503,968.2 1501,970.3 1499,971.8 1497,973.3 1495,975.7 1493,977 1491,978.4 1489,980.6 1487,982.2 1485,985 1483,988.5 1481,990.7 1479,989.6 1477,992.6 1475,994.3 1473,996.4 1471,996.6 1469,999.2 1467,1000.8 1465,1002 1463,1004.2 1461,1006.8 1459,1009 1457,1008.8 1455,1012.4 1453,1014.8 1451,1014.9 1449,1018.2 1447,1018.1 1445,1020.4 1443,1021.4 1441,1023.9 1439,1027.2 1437,1026.5 1435,1030.6 1433,1032.5 1431,1032.3 1429,1033.8 1427,1037.6 1425,1038.1 1423,1042 1421,1042.4 1419,1044.9 1417,1047.7 1415,1048.7 1413,1048.4 1411,1050.5 1409,1054.8 1407,1054.9 1405,1056 1403,1057.8 1401,1060.4 1399,1062.4 1397,1064.8 1395,1065.5 1393,1067.3 1391,1071.1 1389,1072 1387,1074.3 1385,1076.8 1383,1076.1 1381,1078.7 1379,1080.9 1377,1081.5 1375,1085.4 1373,1086.6 1371,1088.3 1369,1089.4 1367,1092.7 1365,1092.4 1363,1095.7 1361,1096.6 1359,1098.2 1357,1100.3 1355,1102.8 1353,1106.5 1351,1108.1 1349,1107.5 1347,1110.4 1345,1112.8 1343,1115.7 1341,1116.2 1339,1117.7 1337,1119.4 1335,1123.1 1333,1123.5 1331,1124.9 1329,1127.2 1327,1130.2 1325,1131.2 1323,1133.3 1321,1135.2 1319,1138.6 1317,1140 1315,1141.8 1313,1142.3 1311,1143.2 1309,1146.3 1307,1146.4 1305,1152.8 1303,1151.4 1301,1154.3 1299,1158.1 1297,1157.9 1295,1157.4 1293,1159.5 1291,1162.7 1289,1164.1 1287,1165.6 1285,1165.3 1283,1167.8 1281,1170.5 1279,1170.1 1277,1172.1 1275,1175.1 1273,1176.4 1271,1177.7 1269,1178.4 1267,1180.8 1265,1182.9 1263,1184.6 1261,1185.3 1259,1189.5 1257,1192.1 1255,1193.1 1253,1192.1 1251,1194.9 1249,1196.2 1247,1200.2 1245,1200.7 1243,1202.5 1241,1202.9 1239,1207.3 1237,1207.8 1235,1209.5 1233,1210.3 1231,1212 1229,1214.8 1227,1216.7 1225,1217.5" fill="#0000ff"/>
<polyline points="1699.5,770 1701.2,765.5 1711.6,1172" fill="none" stroke="#0000ff" stroke-width="5"/>
<polygon points="1730,1183.6 1732,1184.8 1734,1181 1736,1181.6 1738,1180.2 1740,1175.8 1742,1172.5 1744,1173.7 1746,1172.4 1748,1169.7 1750,1166.8 1752,1166.8 1754,1164.1 1756,1163.1 1758,1160.4 1760,1155.2 1762,1158.4 1764,1154.7 1766,1153.5 1768,1152.6 1770,1148.9 1772,1147.9 1774,1145.5 1776,1146.2 1778,1140.2 1780,1142.7 1782,1138.5 1784,1137 1786,1134.6 1788,1135 1790,1131.8 1792,1127.9 1794,1127.6 1796,1128.5 1798,1124 1800,1123.6 1802,1121 1804,1119 1806,1118.2 1808,1117.5 1810,1115.7 1812,1112.5 1814,1110.4 1816,1108.8 1818,1108.7 1820,1107.1 1822,1102.8 1824,1103.1 1826,1099.8 1828,1096.3 1830,1095.6 1832,1096.5 1834,1094.8 1836,1092.9 1838,1089.3 1840,1085.9 1842,1087.5 1844,1083.8 1846,1082.9 1848,1080.1 1850,1077.8 1852,1078.4 1854,1075.6 1856,1074.4 1858,1070.6 1860,1069.2 1862,1068.4 1864,1067 1866,1065.9 1868,1062.9 1870,1061.5 1872,1060.4 1874,1058.2 1876,1056.2 1878,1050.6 1880,1053 1882,1050.4 1884,1046 1886,1046.1 1888,1043.7 1890,1043 1892,1039.9 1894,1040.5 1896,1038.5 1898,1035.4 1900,1032.9 1902,1031.6 1904,1029.6 1906,1027.6 1908,1027.4 1910,1024.2 1912,1022.5 1914,1019.9 1916,1018 1918,1016.9 1920,1014.7 1922,1010.4 1924,1012.6 1926,1009.5 1928,1006.9 1930,1005.7 1932,1004.7 1934,1002.4 1936,1000.4 1938,999.3 1940,997.4 1942,996 1944,993.4 1946,991.8 1948,989.2 1950,986.9 1952,984.2 1954,983.8 1956,982.8 1958,980.5 1960,978.4 1962,975 1964,974.5 1966,971.7 1968,970.5 1970,968.3 1972,966.7 1974,964.5 1976,962.8 1978,962.6 1980,958.5 1982,959 1984,955 1986,954 1988,950.6 1990,951.3 1992,949.2 1994,946.9 1996,943.5 1998,938.7 2000,940 2002,937.5 2004,936.5 2006,936.4 2008,932.1 2010,932.6 2012,929.1 2014,926.7 2016,924.8 2018,924.5 2020,920.1 2022,919.9 2024,917.2 2026,915.3 2028,913.7 2030,911.5 2032,910.4 2034,907.8 2036,906.8 2038,905.6 2040,903.3 2042,900.9 2044,900.7 2046,897 2048,895.6 2050,895.9 2052,889.6 2054,891.3 2056,890.4 2058,886.9 2060,887.6 2062,885.3 2064,882 2066,881.8 2068,879.8 2070,878.3 2072,875.5 2074,873.5 2076,873.7 2078,872.4 2080,870.9 2082,869.3 2084,867.3 2086,863.8 2088,861.5 2090,859.5 2092,858.8 2094,858.9 2096,856.1 2098,854.5 2100,851.9 2102,851.3 2104,848.5 2106,846.1 2108,844.3 2110,843.1 2112,842.4 2114,839.2 2116,837.4 2118,832.8 2120,834.1 2122,833.9 2124,832 2126,830 2128,828.1 2130,827.4 2132,822.9 2134,822.4 2136,819.6 2138,816.7 2140,817.9 2142,815 2144,813.8 2146,812.7 2148,809.3 2150,809.5 2152,805.6 2154,804.2 2156,802.2 2158,802 2160,799.1 2162,797.5 2164,795.4 2166,793.4 2168,793.4 2170,788.3 2172,789.3 2174,787.3 2176,785.8 2178,782.3 2180,782.8 2182,779.8 2184,778.6 2186,777.7 2188,773.9 2190,772.8 2192,771.5 2192,771.1 2192,797.6 2192,796.4 2190,798.1 2188,802.4 2186,801.9 2184,803.5 2182,807.6 2180,807.2 2178,808.8 2176,812 2174,814 2172,814.1 2170,815.8 2168,818.9 2166,821.7 2164,822.8 2162,824.8 2160,825.9 2158,828.5 2156,828.6 2154,832.1 2152,833.3 2150,836 2148,837.5 2146,839 2144,839.5 2142,841.7 2140,842.7 2138,847.4 2136,846.1 2134,849.8 2132,850.4 2130,853.7 2128,854.3 2126,857.5 2124,857 2122,860.7 2120,860.5 2118,864.1 2116,866.2 2114,870.3 2112,869 2110,874.4 2108,872.3 2106,874.8 2104,875 2102,877.5 2100,878.9 2098,881.8 2096,882.9 2094,884.9 2092,885.9 2090,886.5 2088,889.9 2086,893.9 2084,894.3 2082,893.4 2080,896.5 2078,897.8 2076,899 2074,901 2072,904.2 2070,903.6 2068,905.9 2066,906.9 2064,910.5 2062,910.9 2060,912.1 2058,914 2056,917.1 2054,920.1 2052,920.9 2050,921.1 2048,921.9 2046,924.1 2044,925.8 2042,929.3 2040,929.6 2038,930.8 2036,934.2 2034,935.1 2032,938.3 2030,939.8 2028,940.8 2026,943.7 2024,945 2022,947.1 2020,949.2 2018,951.8 2016,953 2014,956.5 2012,956 2010,958.9 2008,960.3 2006,961.6 2004,963.4 2002,966.2 2000,966.2 1998,971.8 1996,970 1994,974 1992,974 1990,977.9 1988,978.2 1986,980.5 1984,981 1982,982.6 1980,987 1978,987.4 1976,989.5 1974,991.2 1972,993 1970,994.1 1968,995.7 1966,997.8 1964,1001 1962,1002.8 1960,1007.5 1958,1007.4 1956,1008 1954,1012.2 1952,1011.8 1950,1012.3 1948,1014.5 1946,1016 1944,1019.7 1942,1021.3 1940,1022.1 1938,1025.6 1936,1027.1 1934,1027.8 1932,1029.7 1930,1032.1 1928,1034.4 1926,1036.3 1924,1039 1922,1041 1920,1040.1 1918,1044 1916,1045.8 1914,1047.6 1912,1048.1 1910,1049.7 1908,1052.5 1906,1055.4 1904,1056.3 1902,1059.2 1900,1059.5 1898,1062.4 1896,1063 1894,1065.4 1892,1067.4 1890,1069.8 1888,1071.3 1886,1072.1 1884,1075.6 1882,1075.7 1880,1078.4 1878,1080.4 1876,1083.6 1874,1084.6 1872,1084.4 1870,1086.9 1868,1088.3 1866,1090.5 1864,1094 1862,1094.5 1860,1098 1858,1097.7 1856,1099.7 1854,1101.6 1852,1102.6 1850,1106 1848,1106.7 1846,1110.3 1844,1111 1842,1112.1 1840,1114.9 1838,1116 1836,1118.4 1834,1119.8 1832,1120.7 1830,1122.4 1828,1124.8 1826,1128 1824,1127.5 1822,1129.3 1820,1132.4 1818,1134 1816,1138.8 1814,1137 1812,1139 1810,1141.9 1808,1141.8 1806,1145.1 1804,1147.4 1802,1148.6 1800,1151.7 1798,1152.5 1796,1153.1 1794,1154.4 1792,1157.5 1790,1160.3 1788,1161.3 1786,1161.6 1784,1165.3 1782,1167.3 1780,1167.6 1778,1169.5 1776,1172.3 1774,1172.7 1772,1175 1770,1175.6 1768,1178.9 1766,1179.1 1764,1183.4 1762,1185 1760,1185 1758,1186.6 1756,1188.3 1754,1191.2 1752,1192.7 1750,1195.3 1748,1197.1 1746,1199.3 1744,1199.7 1742,1204.1 1740,1204.2 1738,1208.2 1736,1206.9 1734,1209.8 1732,1210 1730,1212.7" fill="#0000ff"/>
<polyline points="1236,1165.2 1257,1165.2 1258,1176 1266,1176 1267,1165.2 1278,1165.2 1279,1176 1366,1176 1369.8,1176 1370.8,1100 1374.4,767 1376.1,767 1376.9,920 1372.3,1176 1378,1000 1374.8,1176 1379,1035 1377.3,1176 1379.8,1055 1379.3,1176 1380.6,1070 1381.3,1082 1382.3,1081.1 1383.5,1176 1384.7,1088.6 1385.9,1176 1387.4,1094.7 1389.2,1176 1390.5,1102.9 1391.7,1104.9 1393,1176 1392.1,1112 1393.7,1025 1395.5,1025 1397.2,1105 1397.6,1112.1 1399.4,1176 1401.2,1124.8 1402.9,1176 1404.3,1124.1 1405.3,1176 1407.2,1143.8 1408.6,1144 1410.5,1176 1411.7,1144.7 1412.8,1143.9 1414.7,1144.1 1415.7,1176 1417.2,1150.5 1418.2,1176 1419.3,1149.2 1420.3,1176 1421.8,1149 1423.5,1176 1424.7,1149.1 1426,1149.3 1427.7,1152.8 1429.4,1176 1431.1,1154 1432.5,1176 1433.6,1152.9 1434.8,1176 1436,1153.8 1437.7,1154.5 1438.8,1152.9 1439.8,1176 1441.4,1152.6 1442.5,1176 1444.3,1157.5 1445.7,1176 1446.7,1158.6 1448.6,1176 1449.9,1157.6 1451.2,1176 1452.8,1162.2 1454.6,1176 1455.8,1163.4 1457.4,1176 1457.8,1176 1590,1176 1591.8,1176 1592.8,1100 1596.4,767 1598.1,767 1598.9,920 1594.3,1176 1600,1000 1596.8,1176 1601,1035 1599.3,1176 1601.8,1055 1601.3,1176 1602.6,1070 1603.3,1082 1604.3,1082.5 1605.4,1176 1607.1,1088.6 1608.5,1095 1610.2,1176 1611.9,1102.2 1613.6,1176 1613.1,1112 1614.7,1034 1616.5,1034 1618.2,1105 1618.6,1118 1619.9,1176 1621.4,1133.9 1623,1176 1624.3,1133.6 1625.7,1176 1627.3,1133.8 1628.4,1176 1629.6,1146 1631.2,1176 1633,1145.1 1634.7,1176 1636.1,1144.8 1637.6,1176 1638.9,1150.1 1640.5,1176 1642.2,1149.6 1643.4,1176 1645.1,1149.6 1646.6,1176 1648.1,1150.3 1649.8,1176 1650.9,1148.8 1652.1,1176 1654,1154.5 1655.3,1176 1657.2,1154.9 1658.4,1155.9 1660.2,1176 1661.3,1154.6 1662.4,1176 1663.8,1155.5 1665.5,1176 1667.3,1158.9 1668.5,1176 1670.1,1160.6 1671.4,1160.7 1672.8,1160.6 1674.3,1176 1675.3,1159.1 1676.8,1176 1677.8,1176 1705,1176 1711,1176 1712,1165.2 1714,1155 1717,1155 1719,1165.2 1725,1165.2 1726,1155 1730,1155 1731,1165.2 1778,1165.2 1779,1176 1866,1176 1869,1176 1870,1100 1873.6,767 1875.3,767 1876.1,920 1871.5,1176 1877.2,1000 1874,1176 1878.2,1035 1876.5,1176 1879,1055 1878.5,1176 1879.8,1070 1880.5,1082 1881.5,1081.5 1882.8,1176 1884.2,1089.2 1885.7,1176 1887.1,1095.6 1888.5,1176 1889.6,1103.3 1890.7,1176 1890.5,1112 1892.1,1025 1893.9,1025 1895.6,1105 1896,1111.6 1897.6,1176 1899.4,1126.8 1900.5,1176 1901.8,1127.8 1903,1176 1904.6,1144.1 1906.4,1176 1908,1144.2 1909.7,1176 1910.8,1144.3 1912.4,1176 1914.2,1150.2 1915.7,1150 1917,1176 1918.3,1150 1919.5,1176 1920.6,1149.7 1922.5,1176 1923.5,1141.4 1925.1,1176 1926.8,1141.1 1928.2,1142.6 1929.3,1154.6 1931,1153.4 1932.3,1176 1933.7,1155.2 1934.8,1156.6 1936.6,1176 1937.7,1155.5 1938.7,1176 1940.3,1155.3 1941.6,1176 1943.3,1154.6 1945.1,1176 1946.6,1156.2 1947.6,1155.2 1948.9,1176 1950.7,1155 1952.2,1155 1953.8,1176 1955.3,1155.5 1956.8,1176 1958,1156.7 1959.2,1176 1961,1149.1 1962.6,1176 1963.6,1150 1965,1156.8 1966.1,1176 1967.4,1154.8 1969.2,1176 1970.7,1151.1 1972.2,1176 1974,1159.5 1975.1,1158.8 1976.8,1176 1978.6,1159.1 1980.2,1176 1981.6,1164.6 1983.1,1176 1984.6,1164.1 1985.9,1176 1985,1176 1990,1176 2087,1176 2090,1176 2091,1100 2094.6,767 2096.3,767 2097.1,920 2092.5,1176 2098.2,1000 2095,1176 2099.2,1035 2097.5,1176 2100,1055 2099.5,1176 2100.8,1070 2101.5,1082 2102.5,1080.5 2104.1,1176 2105.3,1091.3 2106.3,1176 2107.3,1095.4 2108.4,1176 2109.6,1105.4 2110.8,1176 2110.5,1112 2112.1,1034 2113.9,1034 2115.6,1105 2116,1118.2 2117.1,1176 2118.2,1131.2 2119.5,1176 2121.3,1130.6 2122.5,1176 2124.3,1131.4 2125.6,1176 2126.9,1146.8 2128.6,1176 2129.8,1146 2131.4,1145.7 2132.4,1176 2133.7,1147.2 2135.6,1176 2137,1152.6 2138.7,1151.1 2140.3,1151.2 2141.6,1151 2142.8,1176 2144.6,1152 2145.9,1176 2147.3,1154.5 2148.9,1176 2150.3,1156.3 2151.5,1156.7 2153.2,1176 2155,1155.3 2156.9,1176 2158.4,1160.6 2159.5,1176 2161.2,1158.7 2163,1176 2164.4,1160.9 2165.5,1176 2167,1160 2168.8,1176 2170.6,1161.1 2172.1,1176 2173.8,1160 2175.4,1159.5 2176.8,1160.2 2178.6,1161.2 2180.5,1176 2181.6,1161.5 2183.2,1176 2184.3,1160.1 2185.8,1176 2187.7,1159.9 2188.9,1176 2188,1176 2190,1176" fill="none" stroke="#ff0000" stroke-width="4.2" stroke-linejoin="round"/>
</g>
<line x1="1388.8" y1="780.9" x2="1584.5" y2="780.9" stroke="#1a1a1a" stroke-width="4.6"/>
<polygon points="1379.3,780.9 1398.3,772.9 1391.6,780.9 1398.3,788.9" fill="#1a1a1a"/>
<polygon points="1594,780.9 1575,788.9 1581.7,780.9 1575,772.9" fill="#1a1a1a"/>
<line x1="1388.5" y1="1041.5" x2="1600.5" y2="1041.5" stroke="#1a1a1a" stroke-width="4.6"/>
<polygon points="1379,1041.5 1398,1033.5 1391.3,1041.5 1398,1049.5" fill="#1a1a1a"/>
<polygon points="1610,1041.5 1591,1049.5 1597.7,1041.5 1591,1033.5" fill="#1a1a1a"/>
<text transform="translate(1426.31 764.55) scale(0.9233 1.0500)" text-anchor="start" font-size="41.5" font-weight="bold" stroke="#fff" stroke-width="0.80">10 GHz</text>
<text transform="translate(1407.73 1100.03) scale(0.9177 1.0346)" text-anchor="start" font-size="41.5" font-weight="bold" stroke="#fff" stroke-width="0.80">10.82 GHz</text>
<text transform="translate(1321.25 1222.70) scale(1.0466 1.0387)" text-anchor="middle" font-size="47" stroke="#fff" stroke-width="0.6">-40</text>
<text transform="translate(1516.88 1222.70) scale(1.0466 1.0387)" text-anchor="middle" font-size="47" stroke="#fff" stroke-width="0.6">-20</text>
<text transform="translate(1712.50 1222.70) scale(1.0466 1.0387)" text-anchor="middle" font-size="47" stroke="#fff" stroke-width="0.6">0</text>
<text transform="translate(1908.12 1222.70) scale(1.0466 1.0387)" text-anchor="middle" font-size="47" stroke="#fff" stroke-width="0.6">20</text>
<text transform="translate(2104.27 1222.70) scale(1.0466 1.0387)" text-anchor="middle" font-size="47" stroke="#fff" stroke-width="0.6">40</text>
<text transform="translate(1231.37 1147.80) scale(1.0241 1.0645)" text-anchor="end" font-size="47" stroke="#fff" stroke-width="0.6">0.2</text>
<text transform="translate(1231.37 1057.15) scale(1.0241 1.0645)" text-anchor="end" font-size="47" stroke="#fff" stroke-width="0.6">0.4</text>
<text transform="translate(1231.37 966.50) scale(1.0241 1.0645)" text-anchor="end" font-size="47" stroke="#fff" stroke-width="0.6">0.6</text>
<text transform="translate(1231.37 875.86) scale(1.0241 1.0645)" text-anchor="end" font-size="47" stroke="#fff" stroke-width="0.6">0.8</text>
<text transform="translate(1231.37 785.21) scale(1.0241 1.0645)" text-anchor="end" font-size="47" stroke="#fff" stroke-width="0.6">1</text>
<text transform="translate(1629.47 1270.90) scale(1.0344 1.0424)" text-anchor="start" font-size="37" font-weight="bold" stroke="#fff" stroke-width="0.80">Time (ms)</text>
<text transform="translate(1162.06 1043.94) rotate(-90) scale(1.0874 1.0061)" text-anchor="start" font-size="37" font-weight="bold" stroke="#fff" stroke-width="0.80">Intensity (a.u)</text>
<text transform="translate(1281.92 741.73) scale(1.0264 1.0309)" text-anchor="start" font-size="64" font-weight="bold" stroke="#fff" stroke-width="0.80">(d)</text>
</g></g>
</svg>
</body></html>
